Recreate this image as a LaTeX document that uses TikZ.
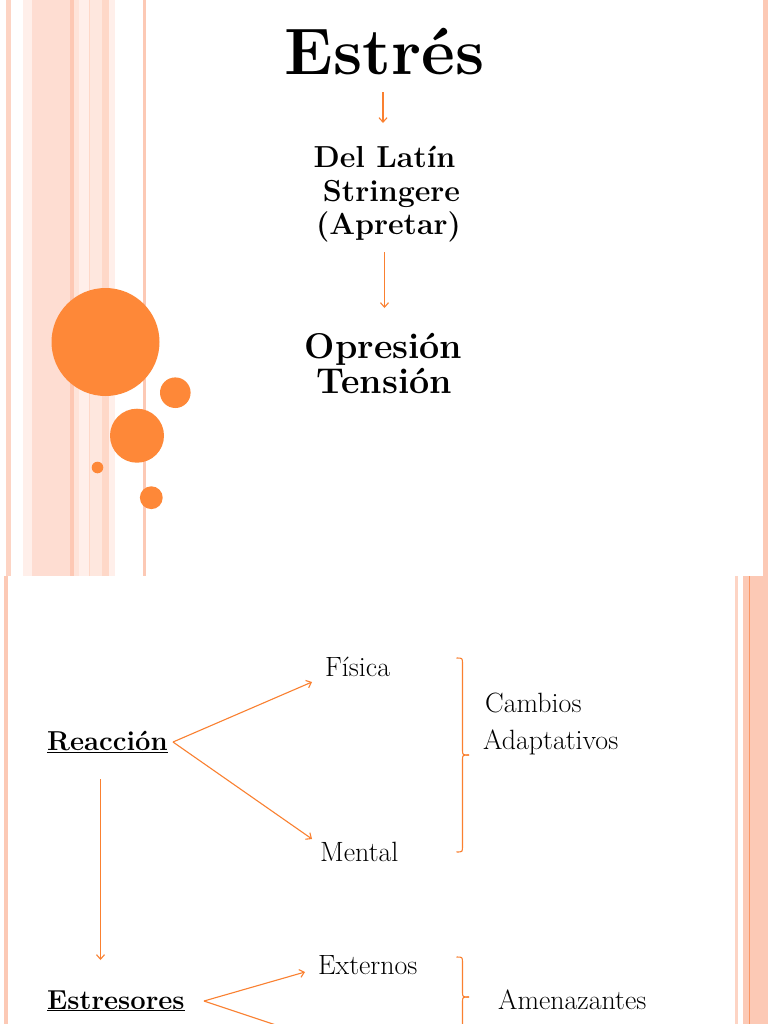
\documentclass[tikz,border=0pt]{standalone}
\usepackage{fontspec}
\usetikzlibrary{arrows.meta}
\definecolor{orng}{RGB}{254,136,56}
\definecolor{arrc}{RGB}{250,128,48}
\definecolor{pkA}{RGB}{253,212,196}
\definecolor{pkB}{RGB}{255,239,234}
\definecolor{pkC}{RGB}{254,221,210}
\definecolor{pkD}{RGB}{253,200,180}
\definecolor{pkE}{RGB}{254,228,218}
\definecolor{pkF}{RGB}{254,231,222}
\definecolor{pkG}{RGB}{254,216,200}
\definecolor{pkH}{RGB}{252,201,181}
\definecolor{pkI}{RGB}{250,150,100}
\begin{document}
\begin{tikzpicture}[x=1bp,y=-1bp,
  arr/.style={draw=arrc,line width=1.1bp,-{Straight Barb[length=4.5bp,width=8bp]}},
  brk/.style={draw=arrc,line width=1.1bp},
  title/.style={inner sep=0,anchor=base,font=\fontsize{66}{70}\selectfont\bfseries},
  topmid/.style={inner sep=0,anchor=base,font=\fontsize{30.5}{36}\selectfont\bfseries},
  topbig/.style={inner sep=0,anchor=base,font=\fontsize{36}{40}\selectfont\bfseries},
  lab/.style={inner sep=0,anchor=base west,font=\fontsize{28}{32}\selectfont},
  blab/.style={inner sep=0,anchor=base west,font=\fontsize{27.5}{32}\selectfont\bfseries},
  dot/.style={fill=orng}]
\clip (0,0) rectangle (768,1024);
\useasboundingbox (0,0) rectangle (768,1024);
\fill[white] (0,0) rectangle (768,1024);
% ---- top slide stripes
\fill[pkA] (6,0) rectangle (11,576);
\fill[pkB] (23,0) rectangle (32,576);
\fill[pkC] (32,0) rectangle (70,576);
\fill[pkD] (70,0) rectangle (74,576);
\fill[pkE] (74,0) rectangle (79.3,576);
\fill[pkB] (79.3,0) rectangle (89.3,576);
\fill[pkG] (89.3,0) rectangle (90.2,576);
\fill[pkF] (90.2,0) rectangle (102,576);
\fill[pkG] (102,0) rectangle (109,576);
\fill[pkB] (109,0) rectangle (115,576);
\fill[pkH] (143,0) rectangle (146,576);
\fill[pkH] (763,0) rectangle (768,576);
% ---- circles
\fill[dot] (105.5,342) circle (54);
\fill[dot] (175.3,392.7) circle (15.3);
\fill[dot] (137,435.7) circle (27);
\fill[dot] (97.5,467.5) circle (5.8);
\fill[dot] (151.3,497.7) circle (11.4);
% ---- bottom slide stripes
\fill[pkH] (4,576) rectangle (8,1024);
\fill[pkA] (734.5,576) rectangle (738,1024);
\fill[pkH] (743,576) rectangle (768,1024);
\fill[pkI] (749,576) rectangle (750.3,1024);
% ---- top texts
\node[title] (estres) at (384.5,74) {Estrés};
\node[topmid] (del) at (384.5,167) {Del Latín};
\node[topmid] (str) at (391.5,201) {Stringere};
\node[topmid] (apr) at (388.5,234) {(Apretar)};
\node[topbig] (opr) at (383.5,358) {Opresión};
\node[topbig] (ten) at (384.5,393) {Tensión};
\coordinate (a1s) at (383,92);
\coordinate (a1e) at (383,123);
\coordinate (a2s) at (384.5,252);
\coordinate (a2e) at (384.5,308);
\draw[arr] (a1s) -- (a1e);
\draw[arr] (a2s) -- (a2e);
% ---- bottom texts
\node[blab] (reac) at (47,750) {\underline{Reacción}};
\node[lab] (fis) at (325,676) {Física};
\node[lab] (men) at (320,861) {Mental};
\node[lab] (camb) at (485,712) {Cambios};
\node[lab] (adap) at (483,749) {Adaptativos};
\node[blab] (estr) at (47,1009) {\underline{Estresores}};
\node[lab] (ext) at (318,974) {Externos};
\node[lab] (amen) at (498,1009) {Amenazantes};
\coordinate (rv) at (173,742);
\coordinate (rf) at (312,682);
\coordinate (rm) at (312,839);
\coordinate (vs) at (100.5,779);
\coordinate (ve) at (100.5,960);
\coordinate (ev) at (204,1001);
\coordinate (ee) at (305,972);
\coordinate (ei) at (312,1037);
\draw[arr] (rv) -- (rf);
\draw[arr] (rv) -- (rm);
\draw[arr] (vs) -- (ve);
\draw[arr] (ev) -- (ee);
\draw[arr] (ev) -- (ei);
% ---- brackets
\draw[brk] (456.5,658) .. controls (462.5,658) .. (462.5,664) -- (462.5,750) .. controls (462.5,755) .. (469,755);
\draw[brk] (469,755) .. controls (462.5,755) .. (462.5,760) -- (462.5,846) .. controls (462.5,852) .. (456.5,852);
\draw[brk] (456.5,957) .. controls (462.5,957) .. (462.5,963) -- (462.5,992) .. controls (462.5,997) .. (469,997);
\draw[brk] (469,997) .. controls (462.5,997) .. (462.5,1002) -- (462.5,1040);
\end{tikzpicture}
\end{document}
